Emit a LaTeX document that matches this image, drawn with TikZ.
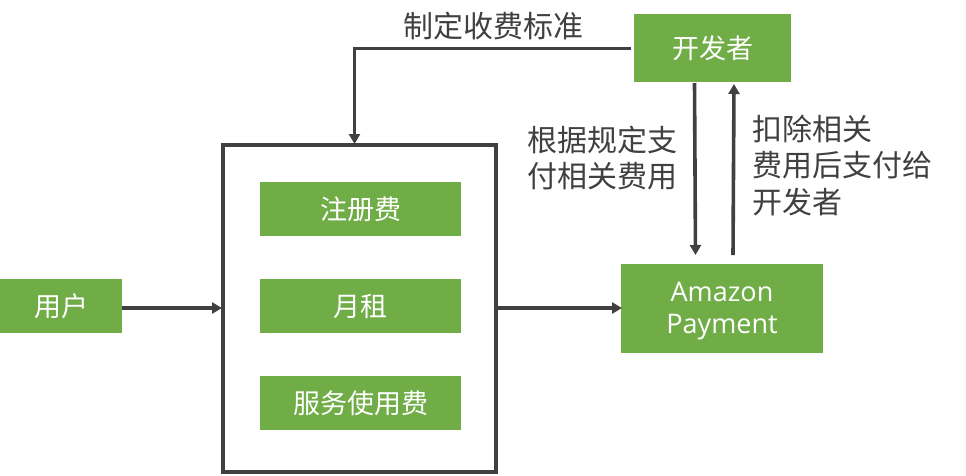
\documentclass[tikz,border=0pt]{standalone}
\usepackage{fontspec}
\setmainfont{Open Sans}
\newfontfamily\cjk{Noto Sans CJK SC}
\usetikzlibrary{arrows.meta,positioning}
\definecolor{boxgreen}{RGB}{112,173,71}
\definecolor{linegray}{RGB}{64,64,64}
\begin{document}
\begin{tikzpicture}[x=1pt,y=-1pt,>={Triangle[length=10pt,width=11pt]},
    greenbox/.style={fill=boxgreen,text=white,align=center,inner sep=0pt,font=\fontsize{27}{32}\selectfont\cjk},
    flow/.style={draw=linegray,line width=3.6pt,->},
    note/.style={text=linegray,align=left,inner sep=0pt,font=\fontsize{30}{36.5}\selectfont\cjk}]
    \useasboundingbox (0,0) rectangle (966,475);
    \node[draw=linegray,line width=4pt,minimum width=272.5pt,minimum height=327pt,inner sep=0pt] (frame) at (359.5,308) {};
    \node[greenbox,minimum width=201pt,minimum height=54pt] (reg) at (360.5,209) {注册费};
    \node[greenbox,minimum width=201pt,minimum height=54pt] (rent) at (360.5,306) {月租};
    \node[greenbox,minimum width=201pt,minimum height=54pt] (usage) at (360.5,403) {服务使用费};
    \node[greenbox,minimum width=122pt,minimum height=54pt] (user) at (61,306) {用户};
    \node[greenbox,minimum width=157pt,minimum height=68pt] (dev) at (712.5,48) {开发者};
    \node[greenbox,minimum width=202pt,minimum height=89pt,font=\fontsize{27}{32}\selectfont] (pay) at (722,308.5) {\rule{0pt}{25pt}Amazon\\Payment};
    \coordinate (userout) at (122,308);
    \coordinate (userin) at (222,308);
    \coordinate (frameout) at (497,308);
    \coordinate (payleft) at (622,308);
    \coordinate (devleft) at (631,48.5);
    \coordinate (corner) at (354.5,48.5);
    \coordinate (framein) at (354.5,144);
    \coordinate (devout) at (694.5,83);
    \coordinate (payin) at (695.5,255);
    \coordinate (payout) at (733,255);
    \coordinate (devin) at (734,84);

    \draw[flow] (userout) -- (userin);
    \draw[flow] (frameout) -- (payleft);
    \draw[flow] (devleft) -- (corner) -- (framein);
    \draw[flow] (devout) -- (payin);
    \draw[flow] (payout) -- (devin);

    \node[note,anchor=center] (fee) at (493.5,26) {制定收费标准};
    \node[note,anchor=north west] (paynote) at (527,125.5) {根据规定支\\付相关费用};
    \node[note,anchor=north west] (devnote) at (752,114.5) {扣除相关\\费用后支付给\\开发者};
\end{tikzpicture}
\end{document}
